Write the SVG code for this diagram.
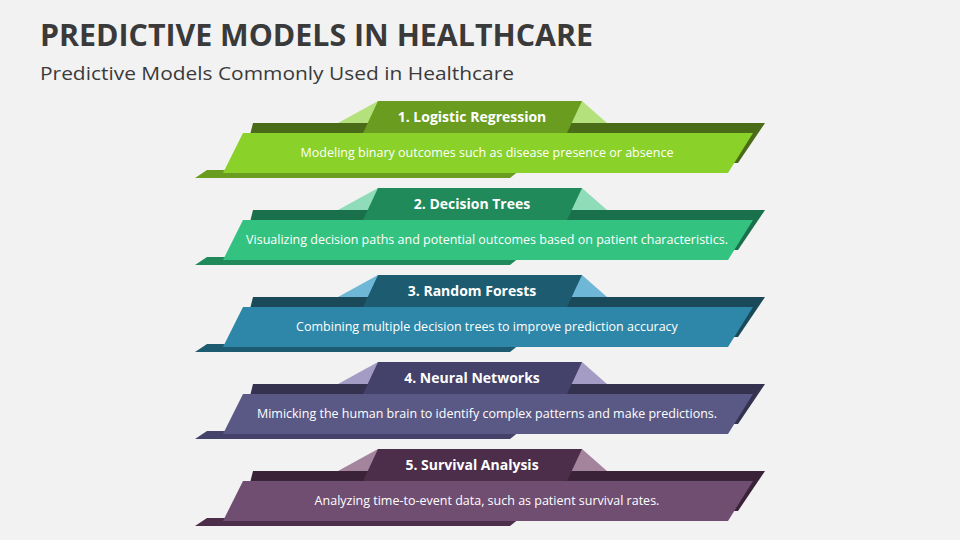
<svg xmlns="http://www.w3.org/2000/svg" width="960" height="540" viewBox="0 0 960 540">
<defs>
<style>
text{font-family:"Open Sans","Liberation Sans",sans-serif}
.t{font-size:14px;font-weight:bold;fill:#fff;text-anchor:middle}
.d{font-size:12.5px;fill:#fff;text-anchor:middle}
</style>
</defs>
<rect width="960" height="540" fill="#f2f2f2"/>
<text x="40" y="46" font-size="30" font-weight="bold" fill="#3a3a3a" textLength="553" lengthAdjust="spacingAndGlyphs">PREDICTIVE MODELS IN HEALTHCARE</text>
<text x="40" y="80" font-size="19" fill="#3a3a3a" textLength="474" lengthAdjust="spacingAndGlyphs">Predictive Models Commonly Used in Healthcare</text>
<g id="connectors"></g>
<g id="node1">
<polygon fill="#b5e17c" points="338,123 378,101 582,101 607,123"/>
<polygon fill="#6a9c1f" points="207,170 520,170 510,178 195,178"/>
<polygon fill="#4a6b17" points="253,123 765,123 738,163 243,163"/>
<polygon fill="#6a9c1f" points="378,101 582,101 567,133 363,133"/>
<polygon fill="#8ad12a" points="243,133 753,133 728,173 223,173"/>
<text class="t" x="472" y="122">1. Logistic Regression</text>
<text class="d" x="487" y="157">Modeling binary outcomes such as disease presence or absence</text>
</g>
<g id="node2" transform="translate(0,87)">
<polygon fill="#8fdcb8" points="338,123 378,101 582,101 607,123"/>
<polygon fill="#208a5a" points="207,170 520,170 510,178 195,178"/>
<polygon fill="#19704a" points="253,123 765,123 738,163 243,163"/>
<polygon fill="#208a5a" points="378,101 582,101 567,133 363,133"/>
<polygon fill="#33c27f" points="243,133 753,133 728,173 223,173"/>
<text class="t" x="472" y="122">2. Decision Trees</text>
<text class="d" x="487" y="157">Visualizing decision paths and potential outcomes based on patient characteristics.</text>
</g>
<g id="node3" transform="translate(0,174)">
<polygon fill="#6fb7d6" points="338,123 378,101 582,101 607,123"/>
<polygon fill="#1d5c70" points="207,170 520,170 510,178 195,178"/>
<polygon fill="#1a4a5a" points="253,123 765,123 738,163 243,163"/>
<polygon fill="#1d5c70" points="378,101 582,101 567,133 363,133"/>
<polygon fill="#2e87a8" points="243,133 753,133 728,173 223,173"/>
<text class="t" x="472" y="122">3. Random Forests</text>
<text class="d" x="487" y="157">Combining multiple decision trees to improve prediction accuracy</text>
</g>
<g id="node4" transform="translate(0,261)">
<polygon fill="#a49cc4" points="338,123 378,101 582,101 607,123"/>
<polygon fill="#44416a" points="207,170 520,170 510,178 195,178"/>
<polygon fill="#34324f" points="253,123 765,123 738,163 243,163"/>
<polygon fill="#44416a" points="378,101 582,101 567,133 363,133"/>
<polygon fill="#5a5985" points="243,133 753,133 728,173 223,173"/>
<text class="t" x="472" y="122">4. Neural Networks</text>
<text class="d" x="487" y="157">Mimicking the human brain to identify complex patterns and make predictions.</text>
</g>
<g id="node5" transform="translate(0,348)">
<polygon fill="#a4839c" points="338,123 378,101 582,101 607,123"/>
<polygon fill="#4c2d4a" points="207,170 520,170 510,178 195,178"/>
<polygon fill="#3a2338" points="253,123 765,123 738,163 243,163"/>
<polygon fill="#4c2d4a" points="378,101 582,101 567,133 363,133"/>
<polygon fill="#6f4e72" points="243,133 753,133 728,173 223,173"/>
<text class="t" x="472" y="122">5. Survival Analysis</text>
<text class="d" x="487" y="157">Analyzing time-to-event data, such as patient survival rates.</text>
</g>
</svg>
